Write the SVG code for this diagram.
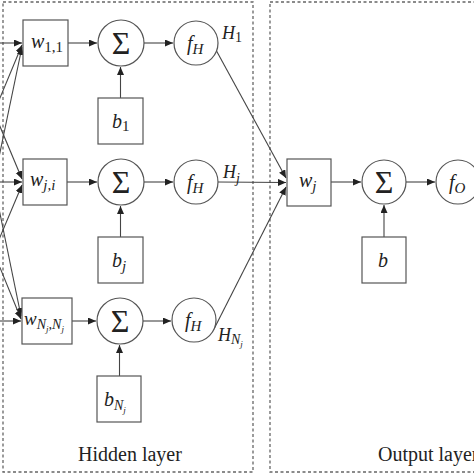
<svg xmlns="http://www.w3.org/2000/svg" width="474" height="474" viewBox="0 0 474 474">
<defs>
<marker id="ah" markerWidth="9" markerHeight="8" refX="8" refY="3.5" orient="auto" markerUnits="userSpaceOnUse">
<path d="M0,0 L8,3.5 L0,7 z" fill="#222"/>
</marker>
<style>
.box{fill:#fff;stroke:#555;stroke-width:1.2}
.cir{fill:#fff;stroke:#555;stroke-width:1.2}
.ln{fill:none;stroke:#444;stroke-width:1.1;marker-end:url(#ah)}
.dash{fill:none;stroke:#666;stroke-width:1.3;stroke-dasharray:3,2.5}
.t{font-family:"Liberation Serif","Times New Roman","DejaVu Serif",serif;fill:#222}
.i{font-style:italic}
.sig{font-family:"Liberation Serif","Times New Roman","DejaVu Serif",serif;font-size:32px;fill:#222}
.lab{font-family:"Liberation Serif","Times New Roman","DejaVu Serif",serif;font-size:20px;fill:#222}
</style>
</defs>
<rect width="474" height="474" fill="#fff"/>
<g id="hidden-layer-frame"><rect class="dash" x="3" y="2" width="250" height="470"/><text class="lab" x="130" y="461" text-anchor="middle">Hidden layer</text></g>
<g id="output-layer-frame"><rect class="dash" x="270" y="2" width="220" height="470"/><text class="lab" x="378" y="461">Output layer</text></g>
<g id="connectors">
<line class="ln" x1="0" y1="43" x2="22" y2="43"/>
<line class="ln" x1="-35" y1="182" x2="22" y2="45"/>
<line class="ln" x1="-35" y1="320" x2="22" y2="47"/>
<line class="ln" x1="0" y1="182" x2="22" y2="182"/>
<line class="ln" x1="-35" y1="43" x2="22" y2="179"/>
<line class="ln" x1="-35" y1="320" x2="22" y2="185"/>
<line class="ln" x1="0" y1="321" x2="21" y2="321"/>
<line class="ln" x1="-35" y1="43" x2="21" y2="316"/>
<line class="ln" x1="-35" y1="182" x2="21" y2="319"/>
<line class="ln" x1="68" y1="43" x2="97" y2="43"/>
<line class="ln" x1="67" y1="182" x2="97" y2="182"/>
<line class="ln" x1="72" y1="321" x2="96" y2="321"/>
<line class="ln" x1="144" y1="43" x2="173" y2="43"/>
<line class="ln" x1="144" y1="182" x2="173" y2="182"/>
<line class="ln" x1="143" y1="321" x2="171" y2="321"/>
<line class="ln" x1="120.5" y1="98" x2="120.5" y2="67"/>
<line class="ln" x1="120.5" y1="237" x2="120.5" y2="206"/>
<line class="ln" x1="119.5" y1="376" x2="119.5" y2="345"/>
<line class="ln" x1="216" y1="50" x2="286" y2="178"/>
<line class="ln" x1="218" y1="182" x2="286" y2="182.5"/>
<line class="ln" x1="214" y1="329" x2="286" y2="187"/>
<line class="ln" x1="331" y1="182" x2="361" y2="182"/>
<line class="ln" x1="406" y1="182" x2="435" y2="182"/>
<line class="ln" x1="384" y1="237" x2="384" y2="205"/>
</g>
<g id="w11"><rect class="box" x="23" y="20" width="45" height="46"/><text class="t" x="31" y="48" font-size="20"><tspan class="i">w</tspan><tspan font-size="15" dy="4">1,1</tspan></text></g>
<g id="wji"><rect class="box" x="23" y="159" width="44" height="46"/><text class="t i" x="30" y="186" font-size="20">w<tspan font-size="15" dy="4">j,i</tspan></text></g>
<g id="wNN"><rect class="box" x="22" y="298" width="50" height="46"/><text class="t i" x="24" y="325" font-size="19">w<tspan font-size="14" dy="4">N</tspan><tspan font-size="9" dy="3">j</tspan><tspan font-size="14" dy="-3">,N</tspan><tspan font-size="9" dy="3">j</tspan></text></g>
<g id="sum1"><circle class="cir" cx="121" cy="43" r="23"/><text class="sig" x="121" y="54" text-anchor="middle">Σ</text></g>
<g id="sum2"><circle class="cir" cx="121" cy="182" r="23"/><text class="sig" x="121" y="193" text-anchor="middle">Σ</text></g>
<g id="sum3"><circle class="cir" cx="120" cy="321" r="23"/><text class="sig" x="120" y="332" text-anchor="middle">Σ</text></g>
<g id="b1"><rect class="box" x="98" y="98" width="45" height="46"/><text class="t i" x="112" y="128" font-size="20">b<tspan font-size="15" dy="3" font-style="normal">1</tspan></text></g>
<g id="bj"><rect class="box" x="98" y="237" width="45" height="46"/><text class="t i" x="112" y="267" font-size="20">b<tspan font-size="15" dy="4">j</tspan></text></g>
<g id="bN"><rect class="box" x="97" y="376" width="44" height="46"/><text class="t i" x="104" y="406" font-size="20">b<tspan font-size="14" dy="4">N</tspan><tspan font-size="9" dy="3">j</tspan></text></g>
<g id="fH1"><circle class="cir" cx="196" cy="43" r="22"/><text class="t i" x="187" y="50" font-size="20">f<tspan font-size="15" dy="4">H</tspan></text><text class="t i" x="222" y="39" font-size="18">H<tspan font-size="14" dy="3" font-style="normal">1</tspan></text></g>
<g id="fH2"><circle class="cir" cx="196" cy="182" r="22"/><text class="t i" x="187" y="189" font-size="20">f<tspan font-size="15" dy="4">H</tspan></text><text class="t i" x="223" y="178" font-size="18">H<tspan font-size="14" dy="5">j</tspan></text></g>
<g id="fH3"><circle class="cir" cx="194" cy="320" r="22"/><text class="t i" x="185" y="327" font-size="20">f<tspan font-size="15" dy="4">H</tspan></text><text class="t i" x="218" y="341" font-size="18">H<tspan font-size="14" dy="3">N</tspan><tspan font-size="9" dy="3">j</tspan></text></g>
<g id="wj"><rect class="box" x="287" y="159" width="44" height="47"/><text class="t i" x="299" y="187" font-size="20">w<tspan font-size="15" dy="4">j</tspan></text></g>
<g id="sumO"><circle class="cir" cx="384" cy="182" r="22"/><text class="sig" x="384" y="193" text-anchor="middle">Σ</text></g>
<g id="b"><rect class="box" x="362" y="237" width="44" height="46"/><text class="t i" x="378" y="267" font-size="20">b</text></g>
<g id="fO"><circle class="cir" cx="458" cy="182" r="22"/><text class="t i" x="449" y="189" font-size="20">f<tspan font-size="15" dy="4">O</tspan></text></g>
</svg>
